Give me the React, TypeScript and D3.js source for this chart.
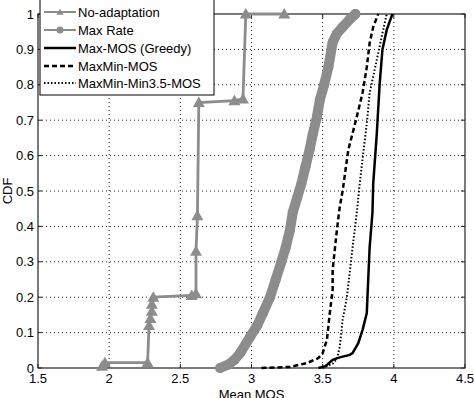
import * as d3 from "d3";
import React from "react";

// CDF curves: [mean MOS, CDF]
const noAdaptation: [number, number][] = [
    [1.95, 0.005], [1.97, 0.015], [2.27, 0.015], [2.28, 0.12], [2.29, 0.14],
    [2.3, 0.16], [2.3, 0.18], [2.31, 0.2], [2.58, 0.205], [2.61, 0.21],
    [2.61, 0.33], [2.62, 0.43], [2.63, 0.75], [2.88, 0.755], [2.94, 0.76],
    [2.96, 1.0], [3.23, 1.0],
];
const maxRate: [number, number][] = [
    [2.78, 0.0], [2.84, 0.01], [2.88, 0.023], [2.92, 0.042], [2.99, 0.088],
    [3.04, 0.12], [3.08, 0.155], [3.13, 0.2], [3.17, 0.25], [3.21, 0.3],
    [3.24, 0.34], [3.27, 0.39], [3.29, 0.44], [3.32, 0.48], [3.35, 0.52],
    [3.38, 0.57], [3.41, 0.62], [3.43, 0.66], [3.46, 0.71], [3.48, 0.757],
    [3.51, 0.8], [3.54, 0.85], [3.57, 0.92], [3.6, 0.945], [3.64, 0.963],
    [3.69, 0.985], [3.73, 1.0],
];
const maxMos: [number, number][] = [
    [3.47, 0.0], [3.52, 0.005], [3.57, 0.023], [3.62, 0.03], [3.69, 0.037],
    [3.71, 0.042], [3.75, 0.07], [3.78, 0.107], [3.81, 0.155], [3.82, 0.25],
    [3.83, 0.34], [3.85, 0.44], [3.855, 0.52], [3.88, 0.66], [3.9, 0.8],
    [3.92, 0.9], [3.95, 0.955], [3.99, 1.0],
];
const maxMinMos: [number, number][] = [
    [3.07, 0.0], [3.27, 0.003], [3.39, 0.014], [3.47, 0.028], [3.5, 0.042],
    [3.53, 0.08], [3.55, 0.155], [3.57, 0.22], [3.57, 0.277], [3.6, 0.39],
    [3.62, 0.455], [3.64, 0.5], [3.68, 0.616], [3.74, 0.71], [3.78, 0.777],
    [3.81, 0.85], [3.83, 0.918], [3.855, 0.963], [3.89, 1.0],
];
const maxMinMin35: [number, number][] = [
    [3.5, 0.0], [3.57, 0.012], [3.6, 0.025], [3.62, 0.06], [3.64, 0.135],
    [3.67, 0.2], [3.69, 0.27], [3.71, 0.34], [3.74, 0.44], [3.76, 0.52],
    [3.78, 0.59], [3.81, 0.69], [3.83, 0.777], [3.88, 0.87], [3.92, 0.946],
    [3.95, 1.0],
];

const xTicks = [1.5, 2, 2.5, 3, 3.5, 4, 4.5];
const yTicks = [0, 0.1, 0.2, 0.3, 0.4, 0.5, 0.6, 0.7, 0.8, 0.9, 1];
const legendLabels = ["No-adaptation", "Max Rate", "Max-MOS (Greedy)", "MaxMin-MOS", "MaxMin-Min3.5-MOS"];

const W = 474, H = 398;
const left = 38, right = 465, top = 14, bottom = 368;
const GRAY = "#8c8c8c";
const FONT = "'Liberation Sans', Arial, sans-serif";

const triPath = (cx: number, cy: number, s = 6) =>
    `M${cx},${cy - s}L${cx + s},${cy + s * 0.75}L${cx - s},${cy + s * 0.75}Z`;

export default function App() {
    const x = d3.scaleLinear().domain([1.5, 4.5]).range([left, right]);
    const y = d3.scaleLinear().domain([0, 1]).range([bottom, top]);
    const line = d3.line<[number, number]>().x(d => x(d[0])).y(d => y(d[1]));

    const legY = [12, 30, 48, 66, 83];

    return (
        <svg width={W} height={H} style={{ position: "absolute", left: 0, top: 0, background: "#fff" }}
            fontFamily={FONT}>
            <rect x={0} y={0} width={W} height={H} fill="#fff" />
            {/* grid */}
            {xTicks.slice(1, -1).map(t => (
                <line key={"gx" + t} x1={x(t)} x2={x(t)} y1={top} y2={bottom}
                    stroke="#222" strokeWidth={1} strokeDasharray="1,3" />
            ))}
            {yTicks.slice(1, -1).map(t => (
                <line key={"gy" + t} x1={left} x2={right} y1={y(t)} y2={y(t)}
                    stroke="#222" strokeWidth={1} strokeDasharray="1,3" />
            ))}
            {/* axis box + ticks */}
            <rect x={left} y={top} width={right - left} height={bottom - top} fill="none" stroke="#222" strokeWidth={1.2} />
            {xTicks.map(t => (
                <g key={"tx" + t}>
                    <line x1={x(t)} x2={x(t)} y1={bottom} y2={bottom - 4} stroke="#222" />
                    <line x1={x(t)} x2={x(t)} y1={top} y2={top + 4} stroke="#222" />
                    <text x={x(t)} y={bottom + 15} fontSize={13} textAnchor="middle">{t}</text>
                </g>
            ))}
            {yTicks.map(t => (
                <g key={"ty" + t}>
                    <line x1={left} x2={left + 4} y1={y(t)} y2={y(t)} stroke="#222" />
                    <line x1={right} x2={right - 4} y1={y(t)} y2={y(t)} stroke="#222" />
                    <text x={left - 4} y={y(t) + 4.5} fontSize={13} textAnchor="end">{t}</text>
                </g>
            ))}
            <text x={(left + right) / 2} y={H + 1} fontSize={13} textAnchor="middle">Mean MOS</text>
            <text transform={`translate(12,${(top + bottom) / 2}) rotate(-90)`} fontSize={13} textAnchor="middle">CDF</text>

            {/* curves */}
            <path d={line(maxRate) ?? ""} fill="none" stroke={GRAY} strokeWidth={10} strokeLinejoin="round" strokeLinecap="round" />
            {maxRate.map((d, i) => (
                <circle key={"mr" + i} cx={x(d[0])} cy={y(d[1])} r={5} fill={GRAY} />
            ))}
            <path d={line(noAdaptation) ?? ""} fill="none" stroke={GRAY} strokeWidth={2.8} />
            {noAdaptation.map((d, i) => (
                <path key={"na" + i} d={triPath(x(d[0]), y(d[1]))} fill={GRAY} />
            ))}
            <path d={line(maxMinMin35) ?? ""} fill="none" stroke="#000" strokeWidth={2} strokeDasharray="1.5,2" />
            <path d={line(maxMinMos) ?? ""} fill="none" stroke="#000" strokeWidth={2.5} strokeDasharray="5,3" />
            <path d={line(maxMos) ?? ""} fill="none" stroke="#000" strokeWidth={2.5} />

            {/* legend */}
            <g>
                <rect x={40} y={-1} width={174} height={96} fill="#fff" stroke="#000" strokeWidth={1} />
                {legendLabels.map((lab, i) => {
                    const ly = legY[i];
                    return (
                        <g key={lab}>
                            {i === 0 && <>
                                <line x1={44} x2={76} y1={ly} y2={ly} stroke={GRAY} strokeWidth={2} />
                                <path d={triPath(60, ly, 3.5)} fill={GRAY} />
                            </>}
                            {i === 1 && <>
                                <line x1={44} x2={76} y1={ly} y2={ly} stroke={GRAY} strokeWidth={2} />
                                <circle cx={60} cy={ly} r={3.5} fill={GRAY} />
                            </>}
                            {i === 2 && <line x1={44} x2={76} y1={ly} y2={ly} stroke="#000" strokeWidth={2.5} />}
                            {i === 3 && <line x1={44} x2={76} y1={ly} y2={ly} stroke="#000" strokeWidth={2.5} strokeDasharray="5,3" />}
                            {i === 4 && <line x1={44} x2={76} y1={ly} y2={ly} stroke="#000" strokeWidth={2} strokeDasharray="1.5,2" />}
                            <text x={78} y={ly + 4.5} fontSize={13}>{lab}</text>
                        </g>
                    );
                })}
            </g>
        </svg>
    );
}
